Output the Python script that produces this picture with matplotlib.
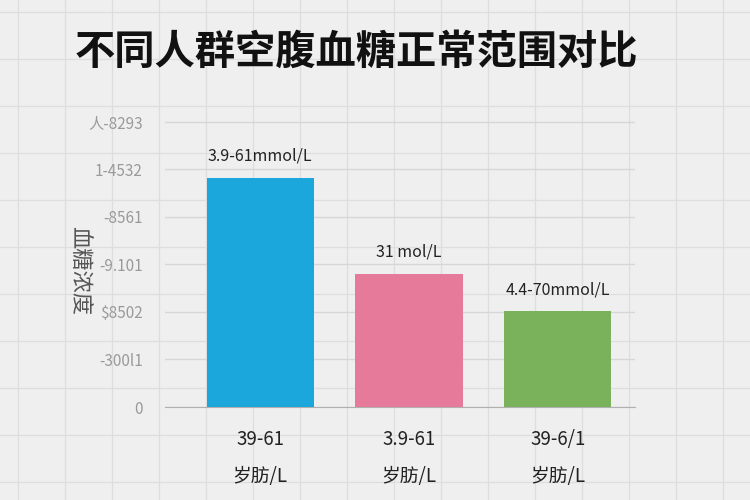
import matplotlib.pyplot as plt
import numpy as np

plt.rcParams['font.family'] = ['Noto Sans CJK SC', 'DejaVu Sans']

# data
groups = ['39-61\n岁肪/L', '3.9-61\n岁肪/L', '39-6/1\n岁肪/L']
values = [4.82, 2.80, 2.02]
bar_labels = ['3.9-61mmol/L', '31 mol/L', '4.4-70mmol/L']
bar_colors = ['#1ba7dc', '#e57a9b', '#79b25b']
ytick_vals = [0, 1, 2, 3, 4, 5, 6]
ytick_labels = ['0', '-300l1', '$8502', '-9.101', '-8561', '1-4532', '人-8293']

fig = plt.figure(figsize=(7.5, 5), dpi=100)
fig.patch.set_facecolor('#efefef')

# grid-paper background over the whole figure
bg = fig.add_axes([0, 0, 1, 1], zorder=-1)
bg.set_xlim(0, 750)
bg.set_ylim(500, 0)
bg.set_facecolor('#efefef')
for gx in np.arange(18, 750, 47):
    bg.axvline(gx, color='#dedede', lw=0.9)
for gy in np.arange(12, 500, 47):
    bg.axhline(gy, color='#dedede', lw=0.9)
bg.axis('off')

ax = fig.add_axes([0.22, 0.186, 0.627, 0.59])
ax.patch.set_alpha(0)
x = np.arange(len(groups))
bars = ax.bar(x, values, width=0.72, color=bar_colors, zorder=3)

for b, lab in zip(bars, bar_labels):
    ax.text(b.get_x() + b.get_width() / 2, b.get_height() + 0.27, lab,
            ha='center', va='bottom', fontsize=11.5, color='#222222')

ax.set_xlim(-0.64, 2.52)
ax.set_ylim(0, 6.2)
ax.set_yticks(ytick_vals)
ax.set_yticklabels(ytick_labels, color='#9a9a9a', fontsize=11)
ax.set_xticks(x)
ax.set_xticklabels(groups, fontsize=13.5, color='#222222', linespacing=2.0)
ax.tick_params(axis='y', length=0, pad=16)
ax.tick_params(axis='x', length=0, pad=16)
ax.yaxis.grid(True, color='#d6d6d6', lw=1, zorder=0)
for s in ['top', 'right', 'left']:
    ax.spines[s].set_visible(False)
ax.spines['bottom'].set_color('#b0b0b0')

fig.text(0.105, 0.46, '血糖浓度', rotation=270, fontsize=16, color='#555555',
         ha='center', va='center')

fig.text(0.1, 0.895, '不同人群空腹血糖正常范围对比', fontsize=29, fontweight='heavy',
         color='#111111', ha='left', va='center')

fig.savefig('out.png', dpi=100, facecolor=fig.get_facecolor())
